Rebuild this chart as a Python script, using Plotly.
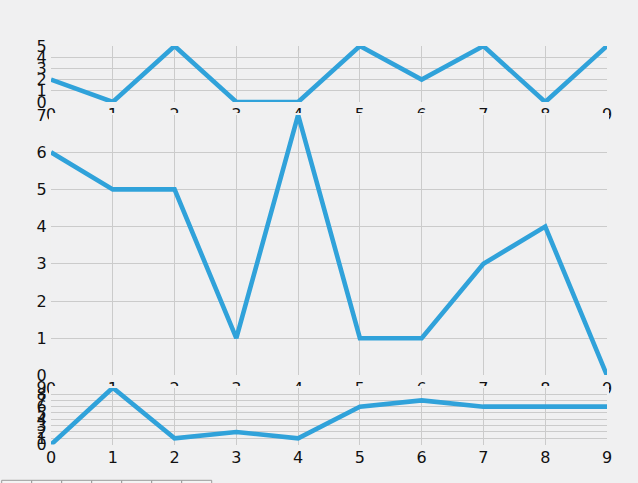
import plotly.graph_objects as go

x_vals = [0, 1, 2, 3, 4, 5, 6, 7, 8, 9]
top_vals = [2, 0, 5, 0, 0, 5, 2, 5, 0, 5]
mid_vals = [6, 5, 5, 1, 7, 1, 1, 3, 4, 0]
bot_vals = [0, 9, 1, 2, 1, 6, 7, 6, 6, 6]

W, H = 638, 483
BG = "#f0f0f0"
LINE = "#30a2da"
GRID = "#cbcbcb"
FONT = dict(family="DejaVu Sans", size=16, color="#111111")

def px_x(p):
    return p / W

def px_y(p):
    return 1 - p / H

xdom = [px_x(51), px_x(607)]
doms = {
    "2": [px_y(102), px_y(46)],
    "3": [px_y(375.4), px_y(115)],
    "4": [px_y(444.6), px_y(387.7)],
}
ranges = {"2": [0, 5], "3": [0, 7], "4": [0, 9]}
series = {"2": top_vals, "3": mid_vals, "4": bot_vals}

fig = go.Figure()
# dummy subplot so that later subplots get their own backgrounds (cover labels like mpl)
fig.add_trace(go.Scatter(x=[], y=[], xaxis="x", yaxis="y", showlegend=False, hoverinfo="skip"))
for k in ["2", "3", "4"]:
    fig.add_trace(go.Scatter(x=x_vals, y=series[k], mode="lines",
                             line=dict(color=LINE, width=4.6),
                             xaxis="x" + k, yaxis="y" + k, showlegend=False))

layout = dict(
    width=W, height=H,
    margin=dict(l=0, r=0, t=0, b=0),
    paper_bgcolor=BG, plot_bgcolor="#f0f0f1",
    font=FONT,
    xaxis=dict(domain=[0, 1], visible=False, range=[0, 1], anchor="y"),
    yaxis=dict(domain=[0, 1], visible=False, range=[0, 1], anchor="x"),
)
for k in ["2", "3", "4"]:
    lo, hi = ranges[k]
    layout["xaxis" + k] = dict(
        domain=xdom, anchor="y" + k, range=[0, 9], tickvals=x_vals,
        showgrid=True, gridcolor=GRID, gridwidth=1, zeroline=False,
        showline=True, linecolor=BG, linewidth=2, mirror=True,
        ticks="", ticklabelstandoff=-3,
        tickfont=FONT, automargin=False, fixedrange=True,
    )
    layout["yaxis" + k] = dict(
        domain=doms[k], anchor="x" + k, range=[lo, hi],
        tickvals=list(range(lo, hi + 1)),
        showgrid=True, gridcolor=GRID, gridwidth=1, zeroline=False,
        showline=True, linecolor=BG, linewidth=2, mirror=True,
        ticks="", ticklabelstandoff=-1,
        tickfont=FONT, automargin=False, fixedrange=True,
    )

shapes = []
box_edges = [1.7, 31.7, 61.7, 91.7, 121.7, 151.7, 181.7, 211.7]
for a, b in zip(box_edges[:-1], box_edges[1:]):
    shapes.append(dict(type="rect", xref="paper", yref="paper",
                       x0=px_x(a), x1=px_x(b), y0=px_y(484), y1=px_y(480.3),
                       line=dict(color="#9a9a9a", width=1), fillcolor="#f4f4f4"))
layout["shapes"] = shapes

fig.update_layout(**layout)
fig.write_html("out.html", config=dict(displayModeBar=False),
               post_script="document.body.style.margin='0';document.body.style.overflow='hidden';")
